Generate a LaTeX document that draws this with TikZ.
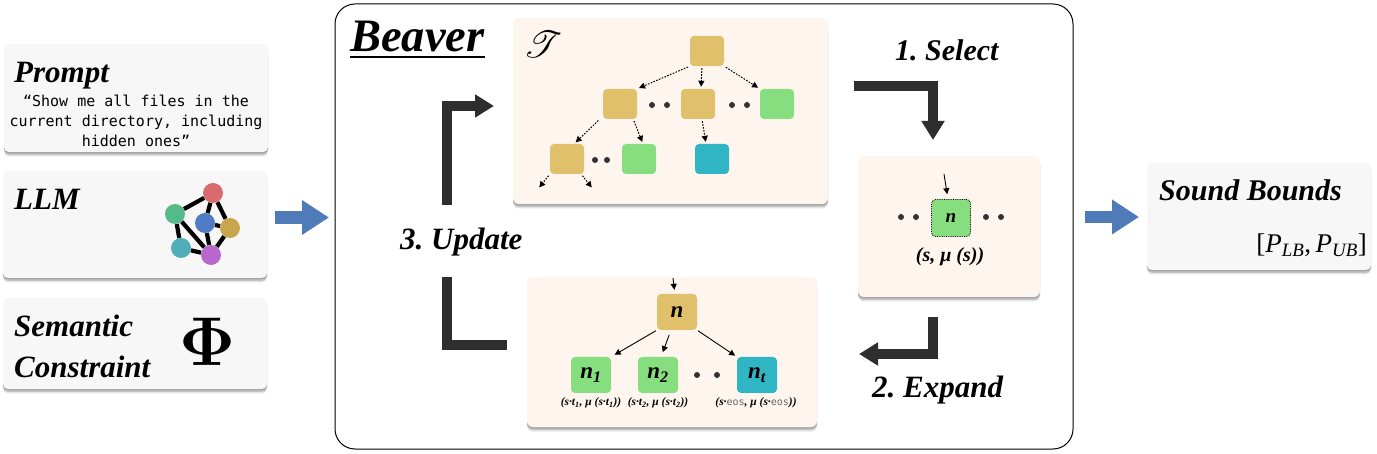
\documentclass[tikz,border=0pt]{standalone}
\usepackage{fix-cm}
\usepackage{amssymb,amsmath,mathrsfs}
\usepackage{fontspec}
\setmainfont{Liberation Serif}
\setmonofont{DejaVu Sans Mono}
\usetikzlibrary{arrows.meta, shadows, calc}

\definecolor{cardgray}{HTML}{F7F7F7}
\definecolor{panelcream}{HTML}{FDF5EE}
\definecolor{nodegold}{HTML}{E0C06A}
\definecolor{nodegreen}{HTML}{86DE7E}
\definecolor{nodecyan}{HTML}{30B5C5}
\definecolor{flowblue}{HTML}{4F7CB8}
\definecolor{loopdark}{HTML}{2E2E2E}

\tikzset{
    softshadow/.style={
        drop shadow={shadow xshift=0pt,shadow yshift=-4.5pt,opacity=.10,fill=black},
        drop shadow={shadow xshift=0pt,shadow yshift=-3pt,opacity=.15,fill=black},
        drop shadow={shadow xshift=0pt,shadow yshift=-1.5pt,opacity=.15,fill=black}},
    card/.style={fill=cardgray,rounded corners=5pt,softshadow,inner sep=0pt},
    panel/.style={fill=panelcream,rounded corners=6pt,softshadow,inner sep=0pt},
    title/.style={font=\fontsize{31}{31}\selectfont\bfseries\itshape,inner sep=0pt,anchor=base west},
    small/.style={font=\fontsize{20}{20}\selectfont\bfseries\itshape,inner sep=0pt},
    tiny/.style={font=\fontsize{11.5}{11.5}\selectfont\bfseries\itshape,inner sep=0pt},
    treenode/.style={rounded corners=4pt,minimum width=34pt,minimum height=30pt,inner sep=0pt},
    bignode/.style={rounded corners=4pt,minimum width=40pt,minimum height=36pt,inner sep=0pt,font=\fontsize{23}{23}\selectfont\bfseries\itshape},
    elldot/.style={circle,fill=black!80,minimum size=6pt,inner sep=0pt},
    dotedge/.style={dash pattern=on 1.6pt off 1.4pt,line width=1pt,-{Triangle[length=6pt,width=6pt]},shorten <=2pt,shorten >=2pt},
    solidedge/.style={line width=.9pt,-{Triangle[length=6pt,width=6pt]}},
    loopedge/.style={loopdark,line width=10pt,miter limit=10},
    looparrow/.style={loopedge,-{Triangle[length=19pt,width=22pt]}},
    flowarrow/.style={flowblue,line width=12.5pt,-{Triangle[length=27pt,width=33pt]}},
    neuron/.style={circle,minimum size=20pt,inner sep=0pt},
    synapse/.style={line width=4.2pt,black},
}
\newcommand{\eostoken}{{\mdseries\upshape\ttfamily\fontsize{10}{10}\selectfont\color{black!60}eos}}

\begin{document}
\frenchspacing
\begin{tikzpicture}[x=1pt,y=-1pt]
    \useasboundingbox (0,0) rectangle (1377,454);
    \fill[white] (0,0) rectangle (1377,454);

    \node (promptcard) at (136,98) [card,minimum width=264pt,minimum height=108pt] {};
    \node (llmcard) at (135,224.5) [card,minimum width=264pt,minimum height=107pt] {};
    \node (constraintcard) at (135,343.5) [card,minimum width=264pt,minimum height=91pt] {};

    \node (prompttitle) at (14,83) [title] {Prompt};
    \node (prompttext) at (136,121) [align=center,inner sep=0pt,font=\fontsize{15}{20}\selectfont\ttfamily] {“Show me all files in the\\current directory, including\\hidden ones”};
    \node (llmtitle) at (14,210) [title] {LLM};
    \node (semtitle) at (14,337) [title] {Semantic};
    \node (contitle) at (14,378) [title] {Constraint};
    \node (phi) at (208,342) [inner sep=0pt,font=\fontsize{69}{69}\selectfont\boldmath] {$\Phi$};

    \node (red) at (213,193) [neuron,fill={rgb,255:red,217;green,106;blue,110}] {};
    \node (green) at (175,214) [neuron,fill={rgb,255:red,86;green,185;blue,138}] {};
    \node (blue) at (205,223) [neuron,fill={rgb,255:red,79;green,124;blue,196}] {};
    \node (gold) at (230,228) [neuron,fill={rgb,255:red,201;green,166;blue,78}] {};
    \node (teal) at (181,248) [neuron,fill={rgb,255:red,80;green,174;blue,187}] {};
    \node (purple) at (211,255) [neuron,fill={rgb,255:red,183;green,103;blue,206}] {};
    \draw[synapse] (red) -- (green);
    \draw[synapse] (red) -- (blue);
    \draw[synapse] (red) -- (gold);
    \draw[synapse] (green) -- (teal);
    \draw[synapse] (green) -- (purple);
    \draw[synapse] (blue) -- (gold);
    \draw[synapse] (blue) -- (purple);
    \draw[synapse] (gold) -- (purple);
    \draw[synapse] (teal) -- (purple);

    \coordinate (inputstart) at (275,217.5);
    \coordinate (inputend) at (329,217.5);
    \draw[flowarrow] (inputstart) -- (inputend);

    \node (frame) at (704,226.5) [draw,line width=1pt,rounded corners=20pt,minimum width=738pt,minimum height=445pt,inner sep=0pt] {};
    \node (beaver) at (350,52) [title,font=\fontsize{46.5}{46.5}\selectfont\bfseries\itshape] {Beaver};
    \draw[line width=2pt] ($(beaver.base west)+(0,5)$) -- ($(beaver.base east)+(0,5)$);

    % tree
    \node (treepanel) at (670.5,111) [panel,minimum width=315pt,minimum height=186pt] {};
    \node (treelabel) at (543,44) [inner sep=0pt,scale=1.5,font=\fontsize{34}{34}\selectfont] {$\mathscr{T}$};
    \node (root) at (707,51) [treenode,fill=nodegold] {};
    \node (left) at (620,104) [treenode,fill=nodegold] {};
    \node (mid) at (698,104) [treenode,fill=nodegold] {};
    \node (right) at (777,104) [treenode,fill=nodegreen] {};
    \node (low) at (567,159) [treenode,fill=nodegold] {};
    \node (leaf) at (639,159) [treenode,fill=nodegreen] {};
    \node (stop) at (712,159) [treenode,fill=nodecyan] {};
    \coordinate (opena) at (538,189);
    \coordinate (openb) at (593,189);
    \node[elldot] (dota) at (652,105) {};
    \node[elldot] (dotb) at (667,105) {};
    \node[elldot] (dotc) at (732,105) {};
    \node[elldot] (dotd) at (747,105) {};
    \node[elldot] (dote) at (595,160) {};
    \node[elldot] (dotf) at (607,160) {};
    \draw[dotedge] (root.south west) -- (left.north east);
    \draw[dotedge] ([xshift=-5pt]root.south) -- ([xshift=3pt]mid.north);
    \draw[dotedge] (root.south east) -- (right.north west);
    \draw[dotedge] ([xshift=-3pt]left.south west) -- ([xshift=-10pt]low.north east);
    \draw[dotedge] ([xshift=-4pt]left.south east) -- ([xshift=4pt]leaf.north);
    \draw[dotedge] ([xshift=4pt]mid.south) -- ([xshift=-6pt]stop.north);
    \draw[dotedge] (low.south west) -- (opena);
    \draw[dotedge] ([xshift=-3pt]low.south east) -- (openb);

    % selected node
    \node (selectpanel) at (949,226.5) [panel,minimum width=182pt,minimum height=141pt] {};
    \node (selected) at (951,218) [bignode,fill=nodegreen,draw,densely dotted,line width=.8pt,minimum height=37pt,minimum width=39pt,font=\fontsize{19}{19}\selectfont\bfseries\itshape] {n};
    \coordinate (selectin) at (944,174);
    \draw[solidedge,shorten >=5pt] (selectin) -- (selected);
    \node[elldot] (dotg) at (901,217) {};
    \node[elldot] (doth) at (916,217) {};
    \node[elldot] (doti) at (986,217) {};
    \node[elldot] (dotj) at (1001,217) {};
    \node (selectstate) at (950,257) [small] {(s, μ (s))};

    % expanded node
    \node (expandpanel) at (672,352) [panel,minimum width=290pt,minimum height=150pt] {};
    \coordinate (expandin) at (673,278);
    \node (parent) at (677,312) [bignode,fill=nodegold] {n};
    \node (childa) at (591,375) [bignode,fill=nodegreen] {n\textsubscript{\itshape 1}};
    \node (childb) at (658,375) [bignode,fill=nodegreen] {n\textsubscript{2}};
    \node (childt) at (757,375) [bignode,fill=nodecyan] {n\textsubscript{t}};
    \node[elldot] (dotk) at (697,375) {};
    \node[elldot] (dotl) at (717,375) {};
    \draw[solidedge,shorten >=4pt] (expandin) -- (parent);
    \draw[solidedge,shorten <=1pt,shorten >=4pt] (parent.south west) -- (childa.north east);
    \draw[solidedge,shorten <=5pt,shorten >=5pt] ([xshift=-6pt]parent.south) -- ([xshift=3pt]childb.north);
    \draw[solidedge,shorten <=1pt,shorten >=2pt] (parent.south east) -- (childt.north west);
    \node (labela) at (591,403) [tiny] {(s·t\textsubscript{1}, μ (s·t\textsubscript{1}))};
    \node (labelb) at (658,403) [tiny] {(s·t\textsubscript{2}, μ (s·t\textsubscript{2}))};
    \node (labelt) at (756,403) [tiny] {(s·\eostoken, μ (s·\eostoken))};

    % loop
    \node (selecttext) at (895,61) [title,font=\fontsize{30}{30}\selectfont\bfseries\itshape] {1. Select};
    \node (expandtext) at (872,398) [title] {2. Expand};
    \node (updatetext) at (400,250) [title] {3. Update};
    \coordinate (selectfrom) at (854,86.5);
    \coordinate (selectbend) at (933,86.5);
    \coordinate (selectto) at (933,140);
    \draw[looparrow] (selectfrom) -- (selectbend) -- (selectto);
    \coordinate (expandfrom) at (933,317);
    \coordinate (expandbend) at (933,354);
    \coordinate (expandto) at (859,354);
    \draw[looparrow] (expandfrom) -- (expandbend) -- (expandto);
    \coordinate (updatefrom) at (447,277);
    \coordinate (updatebend) at (447,345);
    \coordinate (updatestop) at (507,345);
    \draw[loopedge] (updatefrom) -- (updatebend) -- (updatestop);
    \coordinate (returnfrom) at (447,205);
    \coordinate (returnbend) at (447,106);
    \coordinate (returnto) at (494,106);
    \draw[looparrow] (returnfrom) -- (returnbend) -- (returnto);

    % output
    \coordinate (outputstart) at (1085,217);
    \coordinate (outputend) at (1139,217);
    \draw[flowarrow] (outputstart) -- (outputend);
    \node (boundscard) at (1259,216.5) [card,minimum width=224pt,minimum height=107pt] {};
    \node (boundstitle) at (1159,201) [title,font=\fontsize{30}{30}\selectfont\bfseries\itshape] {Sound Bounds};
    \node (bounds) at (1367,245) [inner sep=0pt,anchor=east,font=\fontsize{27}{27}\selectfont] {[\textit{P}\textsubscript{\textit{LB}},\,\textit{P}\textsubscript{\textit{UB}}]};
\end{tikzpicture}
\end{document}
